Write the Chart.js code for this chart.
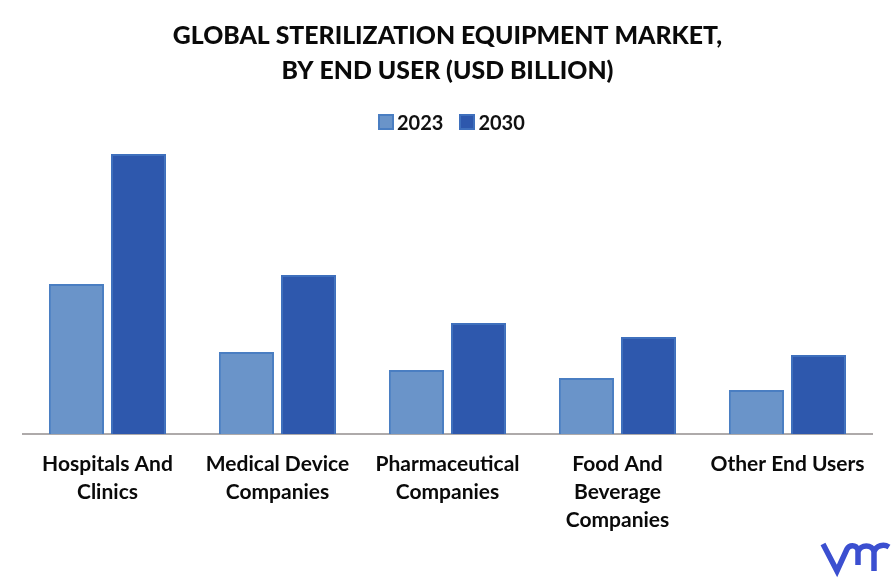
<!DOCTYPE html>
<html>
<head>
<meta charset="utf-8">
<title>Sterilization equipment market</title>
<script src="https://cdn.jsdelivr.net/npm/chart.js@4"></script>
<style>
  html, body { margin: 0; background: #fff; overflow: hidden; }
  #wrap { position: relative; width: 895px; height: 587px; }
  #logo { position: absolute; left: 818px; top: 538px; }
  #legend { position: absolute; left: 378px; top: 108px; height: 28px; display: flex; align-items: center;
    font: 700 20px Lato, Carlito, sans-serif; color: #111; }
  #legend .box { width: 12px; height: 12px; border-width: 2px; border-style: solid; margin-right: 3px; }
  #legend .item { display: flex; align-items: center; margin-right: 16px; }
</style>
</head>
<body>
<div id="wrap">
  <canvas id="chart" width="895" height="587"></canvas>
  <div id="legend"></div>
  <svg id="logo" width="74" height="40" viewBox="0 0 74 40" fill="none" stroke="#3b4fd0" stroke-width="5.5">
    <path d="M5 6 L19 33 L29 11 C31 7 38 6 40 12 L40 27 M40 14 C42 6 55 6 56 14 L56 33 M56 14 C58 7 66 6 71 9"/>
  </svg>
</div>
<script>
const FONT = "Lato, Carlito, sans-serif";

const titleLines = ["GLOBAL STERILIZATION EQUIPMENT MARKET,", "BY END USER (USD BILLION)"];
const categories = [
  ["Hospitals And", "Clinics"],
  ["Medical Device", "Companies"],
  ["Pharmaceutical", "Companies"],
  ["Food And", "Beverage", "Companies"],
  ["Other End Users"],
];
const values2023 = [15.0, 8.2, 6.4, 5.6, 4.4];
const values2030 = [28.0, 15.9, 11.1, 9.7, 7.9];

const chart = new Chart(document.getElementById("chart"), {
  type: "bar",
  data: {
    labels: categories,
    datasets: [
      { label: "2023", data: values2023, backgroundColor: "#6a94c9", borderColor: "#4a7ec2", borderWidth: 2 },
      { label: "2030", data: values2030, backgroundColor: "#2e58ad", borderColor: "#3f70bd", borderWidth: 2 },
    ],
  },
  options: {
    responsive: false,
    animation: false,
    devicePixelRatio: 1,
    categoryPercentage: 0.73,
    barPercentage: 0.887,
    layout: { padding: { left: 22.5, right: 22.5, top: 19, bottom: 0 } },
    plugins: {
      title: {
        display: true,
        text: titleLines,
        color: "#0a0a0a",
        font: { family: FONT, size: 24.8, weight: "900", lineHeight: 1.41 },
        padding: { top: 0, bottom: 45 },
      },
      legend: { display: false },
      tooltip: { enabled: false },
    },
    scales: {
      x: {
        grid: { display: false },
        border: { color: "#aeaaaa", width: 2 },
        ticks: {
          color: "#0a0a0a",
          font: { family: FONT, size: 21, weight: "bold", lineHeight: 1.333 },
          maxRotation: 0,
          autoSkip: false,
          padding: 8,
        },
        afterFit(axis) { axis.height = 153; },
      },
      y: { display: false, min: 0, max: 30 },
    },
  },
});

// legend sits tighter than the built-in one allows, so it's plain html
document.getElementById("legend").innerHTML = chart.data.datasets
  .map((d) => `<span class="item"><span class="box" style="background:${d.backgroundColor};border-color:${d.borderColor}"></span>${d.label}</span>`)
  .join("");
</script>
</body>
</html>
